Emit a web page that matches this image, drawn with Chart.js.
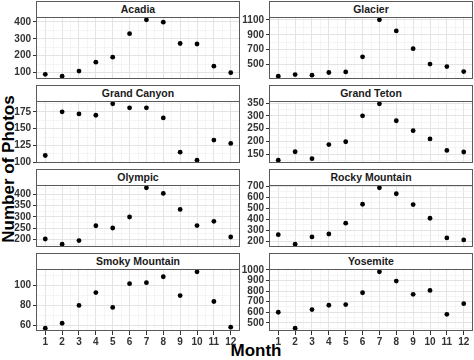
<!DOCTYPE html>
<html><head><meta charset="utf-8">
<script src="https://cdn.jsdelivr.net/npm/chart.js@4/dist/chart.umd.min.js"></script>
<style>
body{margin:0;width:474px;height:360px;position:relative;background:#fff;overflow:hidden;font-family:"Liberation Sans",Arial,sans-serif}
canvas{position:absolute}
.strip{position:absolute;box-sizing:border-box;border:1px solid #5a5a5a;background:#fff;font-weight:bold;font-size:10.5px;color:#1a1a1a;text-align:center;line-height:15px;z-index:2}
#ytitle{position:absolute;left:9px;top:169px;transform:translate(-50%,-50%) rotate(-90deg);font-weight:bold;font-size:17px;white-space:nowrap;color:#000}
#xtitle{position:absolute;left:256px;top:341px;transform:translateX(-50%);font-weight:bold;font-size:17px;color:#000}
</style></head><body>
<div id="ytitle">Number of Photos</div>
<div id="xtitle">Month</div>
<script>
const months = [1,2,3,4,5,6,7,8,9,10,11,12];
const parks = ["Acadia","Glacier","Grand Canyon","Grand Teton","Olympic","Rocky Mountain","Smoky Mountain","Yosemite"];

const acadia      = [90, 79, 109, 162, 191, 330, 412, 398, 272, 269, 138, 100];
const glacier     = [346, 368, 359, 395, 403, 605, 1100, 951, 714, 508, 474, 408];
const grandCanyon = [110, 175, 172, 170, 187, 181, 181, 166, 115, 103, 133, 128];
const grandTeton  = [127, 160, 133, 188, 199, 300, 347, 281, 242, 210, 165, 159];
const olympic     = [201, 178, 194, 260, 250, 299, 429, 404, 333, 261, 280, 210];
const rocky       = [260, 173, 239, 266, 365, 538, 688, 634, 535, 410, 230, 212];
const smoky       = [57, 62, 80, 93, 78, 102, 103, 109, 90, 114, 84, 58];
const yosemite    = [600, 450, 625, 666, 672, 784, 981, 894, 769, 806, 581, 681];

const acadiaTicks      = [100, 200, 300, 400];
const glacierTicks     = [500, 700, 900, 1100];
const grandCanyonTicks = [100, 125, 150, 175];
const grandTetonTicks  = [150, 200, 250, 300, 350];
const olympicTicks     = [200, 250, 300, 350, 400];
const rockyTicks       = [200, 300, 400, 500, 600, 700];
const smokyTicks       = [60, 80, 100];
const yosemiteTicks    = [500, 600, 700, 800, 900, 1000];

const seriesList = [acadia, glacier, grandCanyon, grandTeton, olympic, rocky, smoky, yosemite];
const tickList = [acadiaTicks, glacierTicks, grandCanyonTicks, grandTetonTicks, olympicTicks, rockyTicks, smokyTicks, yosemiteTicks];

const colLeft = [36, 269], colRight = [240, 473];
const plotTops = [17, 101, 185, 269], plotH = 62;
const PADT = 8;

const borderPlugin = {
  id: 'panelBorder',
  afterDraw(chart) {
    const {ctx, chartArea: a} = chart;
    ctx.save();
    ctx.strokeStyle = '#5a5a5a';
    ctx.lineWidth = 1;
    ctx.strokeRect(Math.round(a.left) + 0.5, Math.round(a.top) + 0.5,
                   Math.round(a.right - a.left) - 1, Math.round(a.bottom - a.top) - 1);
    ctx.restore();
  }
};

function withMinor(majors, lo, hi) {
  const step = majors[1] - majors[0];
  const set = new Set();
  majors.forEach(v => { set.add(v); set.add(v - step / 2); set.add(v + step / 2); });
  return [...set].filter(v => v >= lo && v <= hi).sort((a, b) => a - b);
}

const tickFont = {family: '"Liberation Sans", Arial, sans-serif', size: 10, weight: 'bold'};
const xMin = months[0] - 0.05 * (months[months.length - 1] - months[0]);
const xMax = months[months.length - 1] + 0.05 * (months[months.length - 1] - months[0]);
const xAll = withMinor(months, xMin, xMax);

parks.forEach((name, i) => {
  const col = i % 2, row = Math.floor(i / 2);
  const bottom = row === 3;
  const vals = seriesList[i], majors = tickList[i];
  const dMin = Math.min(...vals), dMax = Math.max(...vals);
  const yMin = dMin - 0.05 * (dMax - dMin), yMax = dMax + 0.05 * (dMax - dMin);
  const yAll = withMinor(majors, yMin, yMax);

  const strip = document.createElement('div');
  strip.className = 'strip';
  strip.textContent = name;
  strip.style.left = colLeft[col] + 'px';
  strip.style.width = (colRight[col] - colLeft[col]) + 'px';
  strip.style.top = (plotTops[row] - 16) + 'px';
  strip.style.height = '17px';
  document.body.appendChild(strip);

  const cv = document.createElement('canvas');
  const W = 36 + (colRight[col] - colLeft[col]) + 4;
  const H = PADT + plotH + (bottom ? 24 : 8);
  cv.width = W; cv.height = H;
  cv.style.width = W + 'px'; cv.style.height = H + 'px';
  cv.style.left = (colLeft[col] - 36) + 'px';
  cv.style.top = (plotTops[row] - PADT) + 'px';
  document.body.appendChild(cv);

  const isMajorX = v => months.includes(v);
  const isMajorY = v => majors.includes(v);

  new Chart(cv, {
    type: 'scatter',
    data: {datasets: [{
      data: months.map((m, k) => ({x: m, y: vals[k]})),
      pointRadius: 2.4, pointHoverRadius: 2.4,
      backgroundColor: '#000', borderWidth: 0
    }]},
    options: {
      responsive: false, animation: false, events: [],
      layout: {padding: {left: 0, right: 4, top: PADT, bottom: bottom ? 2 : 8}},
      plugins: {legend: {display: false}, tooltip: {enabled: false}, title: {display: false}},
      scales: {
        x: {
          type: 'linear', min: xMin, max: xMax,
          afterBuildTicks: s => { s.ticks = xAll.map(v => ({value: v})); },
          afterFit: s => { s.height = bottom ? 22 : 0; s.paddingLeft = 0; s.paddingRight = 0; },
          border: {display: false},
          grid: {
            color: c => (c.tick && isMajorX(c.tick.value)) ? '#e3e3e3' : '#f1f1f1',
            lineWidth: c => (c.tick && isMajorX(c.tick.value)) ? 1 : 0.7,
            drawTicks: bottom, tickLength: 4,
            tickColor: c => (c.tick && isMajorX(c.tick.value)) ? '#333' : 'rgba(0,0,0,0)'
          },
          ticks: {
            display: bottom, autoSkip: false, maxRotation: 0, padding: 1,
            font: tickFont, color: '#333',
            callback: v => isMajorX(v) ? String(v) : ''
          }
        },
        y: {
          type: 'linear', min: yMin, max: yMax,
          afterBuildTicks: s => { s.ticks = yAll.map(v => ({value: v})); },
          afterFit: s => { s.width = 36; s.paddingTop = 0; s.paddingBottom = 0; },
          border: {display: false},
          grid: {
            color: c => (c.tick && isMajorY(c.tick.value)) ? '#e3e3e3' : '#f1f1f1',
            lineWidth: c => (c.tick && isMajorY(c.tick.value)) ? 1 : 0.7,
            drawTicks: true, tickLength: 3,
            tickColor: c => (c.tick && isMajorY(c.tick.value)) ? '#333' : 'rgba(0,0,0,0)'
          },
          ticks: {
            autoSkip: false, padding: 2,
            font: tickFont, color: '#333',
            callback: v => isMajorY(v) ? String(v) : ''
          }
        }
      }
    },
    plugins: [borderPlugin]
  });
});
</script>
</body></html>
